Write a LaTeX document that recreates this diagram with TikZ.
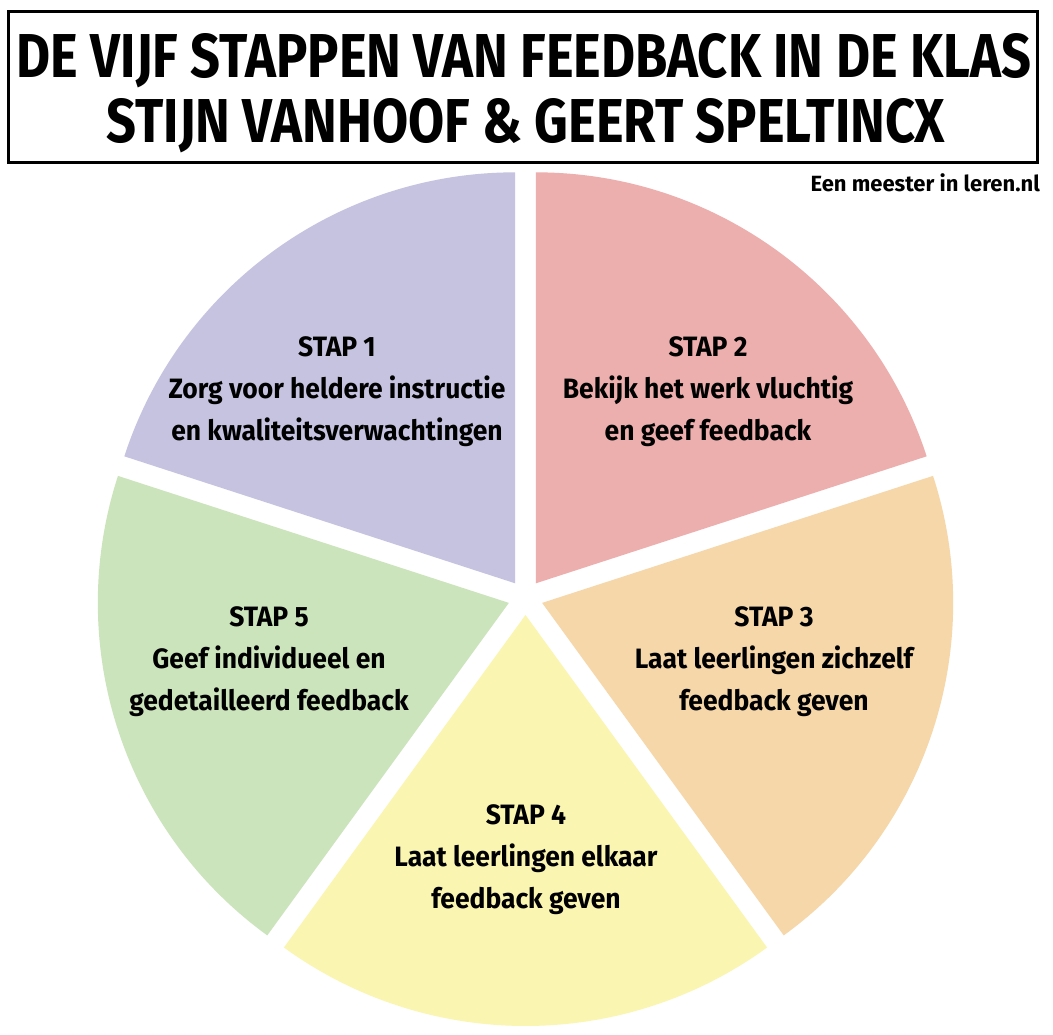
\documentclass[tikz,border=0pt]{standalone}
\usepackage{fontspec}
\setmainfont{Fira Sans}
\newfontfamily\titlefont{Fira Sans}[FakeStretch=0.845]
\newfontfamily\bodyfont{Fira Sans}[FakeStretch=0.945]
\usetikzlibrary{calc}
\definecolor{cpurple}{HTML}{C5C3E0}
\definecolor{cpink}{HTML}{EDAEAE}
\definecolor{cpeach}{HTML}{F5D7A9}
\definecolor{cyellow}{HTML}{FAF6B2}
\definecolor{cgreen}{HTML}{CBE4BC}
\tikzset{
  steptext/.style={align=center, font=\bodyfont\bfseries\fontsize{28}{42}\selectfont, inner sep=0pt},
  titletext/.style={font=\titlefont\bfseries\fontsize{62}{64}\selectfont, inner sep=0pt},
  slicefill/.style={fill=#1, draw=none}
}
\newcommand{\pieslice}[4]{% color, start, end, bisector
  \fill[slicefill=#1] ($(C)+(#4:17.5)$) -- ++(#2:411) arc[start angle=#2, end angle=#3, radius=411] -- cycle;
}
\begin{document}
\begin{tikzpicture}[x=1pt,y=1pt]
\useasboundingbox (0,0) rectangle (1053,1035);
\fill[white] (0,0) rectangle (1053,1035);
\coordinate (C) at (525.5,437.5);
\pieslice{cpurple}{90}{162}{126}
\pieslice{cpink}{18}{90}{54}
\pieslice{cpeach}{-54}{18}{-18}
\pieslice{cyellow}{-126}{-54}{-90}
\pieslice{cgreen}{162}{234}{198}
% title box
\draw[line width=3pt] (8,872) rectangle (1037,1023);
\node[titletext] (t1) at (524,974) {DE VIJF STAPPEN VAN FEEDBACK IN DE KLAS};
\node[titletext] (t2) at (526,909) {STIJN VANHOOF \& GEERT SPELTINCX};
\node[font=\bfseries\fontsize{22}{24}\selectfont, anchor=east, inner sep=0pt] (site) at (1040,852) {Een meester in leren.nl};
% step labels
\node[steptext] (s1) at (337,643) {STAP 1\\Zorg voor heldere instructie\\en kwaliteitsverwachtingen};
\node[steptext] (s2) at (708,643) {STAP 2\\Bekijk het werk vluchtig\\en geef feedback};
\node[steptext] (s3) at (774,373) {STAP 3\\Laat leerlingen zichzelf\\feedback geven};
\node[steptext] (s4) at (526,175) {STAP 4\\Laat leerlingen elkaar\\feedback geven};
\node[steptext] (s5) at (269,373) {STAP 5\\Geef individueel en\\gedetailleerd feedback};
\end{tikzpicture}
\end{document}
